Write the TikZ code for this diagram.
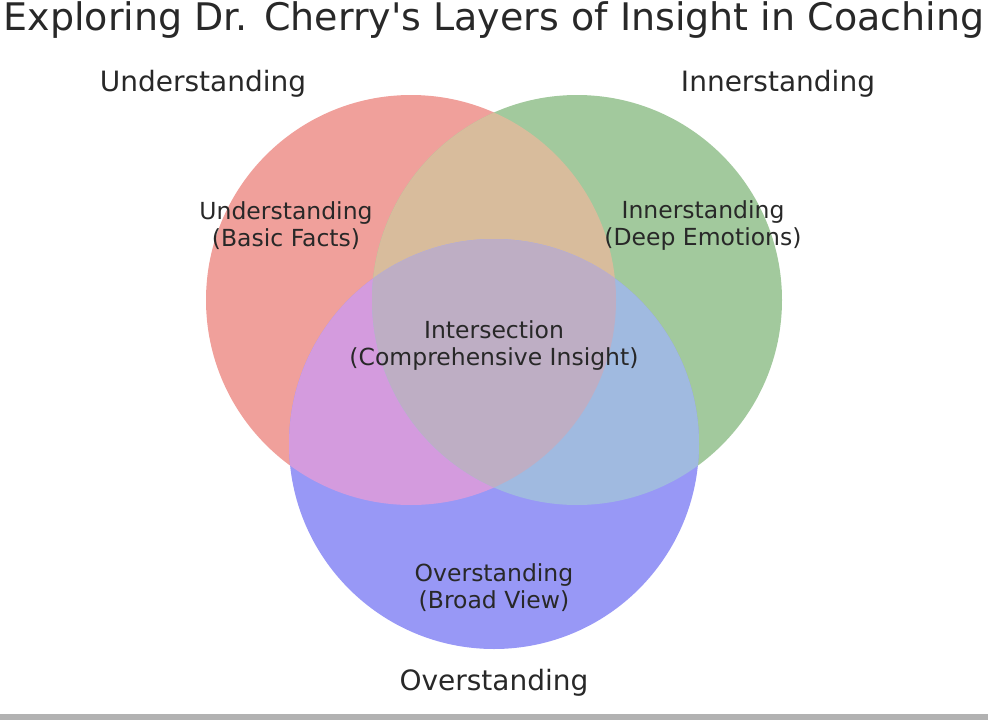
\documentclass[tikz,border=0pt]{standalone}
\usepackage{fontspec}
\setmainfont{DejaVu Sans}
\definecolor{onlyU}{RGB}{240,160,155}
\definecolor{onlyI}{RGB}{162,201,157}
\definecolor{onlyO}{RGB}{152,152,246}
\definecolor{UI}{RGB}{216,188,156}
\definecolor{UO}{RGB}{212,155,222}
\definecolor{IO}{RGB}{160,186,224}
\definecolor{UIO}{RGB}{190,174,196}
\definecolor{txt}{RGB}{40,40,40}
\tikzset{
    setlabel/.style={text=txt, font=\fontsize{28}{30}\selectfont},
    inlabel/.style={text=txt, align=center, font=\fontsize{23.5}{27}\selectfont}
}
\begin{document}
\begin{tikzpicture}[x=1pt,y=-1pt]
    \useasboundingbox (0,0) rectangle (988,720);
    \fill[gray!60] (0,714) rectangle (988,720);
    \def\rad{205}
    \def\circU{(411,300) circle (\rad)}
    \def\circI{(577,300) circle (\rad)}
    \def\circO{(494,444) circle (\rad)}

    \fill[onlyU] \circU;
    \fill[onlyI] \circI;
    \fill[onlyO] \circO;
    \begin{scope}\clip \circU; \fill[UI] \circI; \end{scope}
    \begin{scope}\clip \circU; \fill[UO] \circO; \end{scope}
    \begin{scope}\clip \circI; \fill[IO] \circO; \end{scope}
    \begin{scope}\clip \circU; \clip \circI; \fill[UIO] \circO; \end{scope}

    \node[text=txt, font=\fontsize{38}{40}\selectfont] (title) at (494,20) {Exploring Dr. Cherry\textquotesingle s Layers of Insight in Coaching};
    \node[setlabel] (labU) at (203,84) {Understanding};
    \node[setlabel] (labI) at (778,84) {Innerstanding};
    \node[setlabel] (labO) at (494,683) {Overstanding};

    \node[inlabel] (txtU) at (286,226) {Understanding\\(Basic Facts)};
    \node[inlabel] (txtI) at (703,226) {Innerstanding\\(Deep Emotions)};
    \node[inlabel] (txtC) at (494,346) {Intersection\\(Comprehensive Insight)};
    \node[inlabel] (txtO) at (494,588) {Overstanding\\(Broad View)};
\end{tikzpicture}
\end{document}
